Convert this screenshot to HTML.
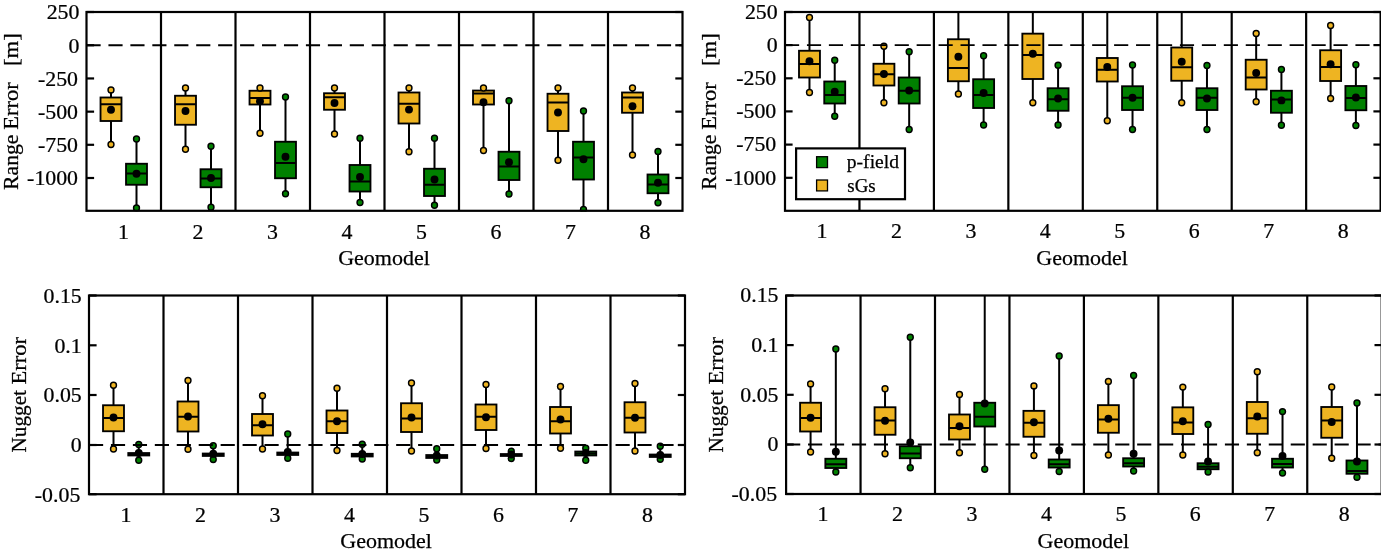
<!DOCTYPE html>
<html><head><meta charset="utf-8"><title>Geomodel error boxplots</title>
<style>
html,body{margin:0;padding:0;background:#fff;}
body{width:1381px;height:553px;overflow:hidden;}
svg{display:block;}
text{fill:#000;}
</style></head>
<body>
<svg width="1381" height="553" viewBox="0 0 1381 553">
<rect width="1381" height="553" fill="#fff"/>
<g id="TL">
<clipPath id="cTL"><rect x="86.5" y="12.0" width="596.0" height="199.40"/></clipPath>
<line x1="161.00" y1="12.0" x2="161.00" y2="210.8" stroke="#000" stroke-width="2.2"/>
<line x1="235.50" y1="12.0" x2="235.50" y2="210.8" stroke="#000" stroke-width="2.2"/>
<line x1="310.00" y1="12.0" x2="310.00" y2="210.8" stroke="#000" stroke-width="2.2"/>
<line x1="384.50" y1="12.0" x2="384.50" y2="210.8" stroke="#000" stroke-width="2.2"/>
<line x1="459.00" y1="12.0" x2="459.00" y2="210.8" stroke="#000" stroke-width="2.2"/>
<line x1="533.50" y1="12.0" x2="533.50" y2="210.8" stroke="#000" stroke-width="2.2"/>
<line x1="608.00" y1="12.0" x2="608.00" y2="210.8" stroke="#000" stroke-width="2.2"/>
<g clip-path="url(#cTL)">
<line x1="111.00" y1="89.90" x2="111.00" y2="144.50" stroke="#000" stroke-width="2.0"/>
<rect x="100.53" y="97.50" width="20.95" height="23.50" fill="#EEB422" stroke="#000" stroke-width="1.85"/>
<line x1="100.53" y1="104.25" x2="121.47" y2="104.25" stroke="#000" stroke-width="2.1"/>
<circle cx="111.00" cy="89.90" r="2.95" fill="#EEB422" stroke="#000" stroke-width="1.45"/>
<circle cx="111.00" cy="144.50" r="2.95" fill="#EEB422" stroke="#000" stroke-width="1.45"/>
<circle cx="111.00" cy="109.75" r="3.95" fill="#000"/>
<line x1="136.50" y1="139.00" x2="136.50" y2="208.00" stroke="#000" stroke-width="2.0"/>
<rect x="126.03" y="163.75" width="20.95" height="21.00" fill="#008000" stroke="#000" stroke-width="1.85"/>
<line x1="126.03" y1="173.50" x2="146.97" y2="173.50" stroke="#000" stroke-width="2.1"/>
<circle cx="136.50" cy="139.00" r="2.95" fill="#008000" stroke="#000" stroke-width="1.45"/>
<circle cx="136.50" cy="208.00" r="2.95" fill="#008000" stroke="#000" stroke-width="1.45"/>
<circle cx="136.50" cy="173.75" r="3.95" fill="#000"/>
<line x1="185.50" y1="88.00" x2="185.50" y2="149.25" stroke="#000" stroke-width="2.0"/>
<rect x="175.03" y="95.75" width="20.95" height="29.00" fill="#EEB422" stroke="#000" stroke-width="1.85"/>
<line x1="175.03" y1="104.25" x2="195.97" y2="104.25" stroke="#000" stroke-width="2.1"/>
<circle cx="185.50" cy="88.00" r="2.95" fill="#EEB422" stroke="#000" stroke-width="1.45"/>
<circle cx="185.50" cy="149.25" r="2.95" fill="#EEB422" stroke="#000" stroke-width="1.45"/>
<circle cx="185.50" cy="111.00" r="3.95" fill="#000"/>
<line x1="211.00" y1="146.25" x2="211.00" y2="207.25" stroke="#000" stroke-width="2.0"/>
<rect x="200.53" y="169.25" width="20.95" height="18.00" fill="#008000" stroke="#000" stroke-width="1.85"/>
<line x1="200.53" y1="178.50" x2="221.47" y2="178.50" stroke="#000" stroke-width="2.1"/>
<circle cx="211.00" cy="146.25" r="2.95" fill="#008000" stroke="#000" stroke-width="1.45"/>
<circle cx="211.00" cy="207.25" r="2.95" fill="#008000" stroke="#000" stroke-width="1.45"/>
<circle cx="211.00" cy="178.00" r="3.95" fill="#000"/>
<line x1="260.00" y1="88.00" x2="260.00" y2="133.25" stroke="#000" stroke-width="2.0"/>
<rect x="249.53" y="90.75" width="20.95" height="13.75" fill="#EEB422" stroke="#000" stroke-width="1.85"/>
<line x1="249.53" y1="98.00" x2="270.48" y2="98.00" stroke="#000" stroke-width="2.1"/>
<circle cx="260.00" cy="88.00" r="2.95" fill="#EEB422" stroke="#000" stroke-width="1.45"/>
<circle cx="260.00" cy="133.25" r="2.95" fill="#EEB422" stroke="#000" stroke-width="1.45"/>
<circle cx="260.00" cy="101.25" r="3.95" fill="#000"/>
<line x1="285.50" y1="97.00" x2="285.50" y2="193.75" stroke="#000" stroke-width="2.0"/>
<rect x="275.02" y="141.75" width="20.95" height="36.50" fill="#008000" stroke="#000" stroke-width="1.85"/>
<line x1="275.02" y1="163.00" x2="295.98" y2="163.00" stroke="#000" stroke-width="2.1"/>
<circle cx="285.50" cy="97.00" r="2.95" fill="#008000" stroke="#000" stroke-width="1.45"/>
<circle cx="285.50" cy="193.75" r="2.95" fill="#008000" stroke="#000" stroke-width="1.45"/>
<circle cx="285.50" cy="156.75" r="3.95" fill="#000"/>
<line x1="334.50" y1="88.00" x2="334.50" y2="134.00" stroke="#000" stroke-width="2.0"/>
<rect x="324.02" y="93.25" width="20.95" height="16.50" fill="#EEB422" stroke="#000" stroke-width="1.85"/>
<line x1="324.02" y1="97.25" x2="344.98" y2="97.25" stroke="#000" stroke-width="2.1"/>
<circle cx="334.50" cy="88.00" r="2.95" fill="#EEB422" stroke="#000" stroke-width="1.45"/>
<circle cx="334.50" cy="134.00" r="2.95" fill="#EEB422" stroke="#000" stroke-width="1.45"/>
<circle cx="334.50" cy="103.00" r="3.95" fill="#000"/>
<line x1="360.00" y1="138.25" x2="360.00" y2="202.50" stroke="#000" stroke-width="2.0"/>
<rect x="349.52" y="165.00" width="20.95" height="26.50" fill="#008000" stroke="#000" stroke-width="1.85"/>
<line x1="349.52" y1="181.50" x2="370.48" y2="181.50" stroke="#000" stroke-width="2.1"/>
<circle cx="360.00" cy="138.25" r="2.95" fill="#008000" stroke="#000" stroke-width="1.45"/>
<circle cx="360.00" cy="202.50" r="2.95" fill="#008000" stroke="#000" stroke-width="1.45"/>
<circle cx="360.00" cy="177.00" r="3.95" fill="#000"/>
<line x1="409.00" y1="88.00" x2="409.00" y2="151.75" stroke="#000" stroke-width="2.0"/>
<rect x="398.52" y="92.50" width="20.95" height="31.00" fill="#EEB422" stroke="#000" stroke-width="1.85"/>
<line x1="398.52" y1="103.75" x2="419.48" y2="103.75" stroke="#000" stroke-width="2.1"/>
<circle cx="409.00" cy="88.00" r="2.95" fill="#EEB422" stroke="#000" stroke-width="1.45"/>
<circle cx="409.00" cy="151.75" r="2.95" fill="#EEB422" stroke="#000" stroke-width="1.45"/>
<circle cx="409.00" cy="109.60" r="3.95" fill="#000"/>
<line x1="434.50" y1="138.25" x2="434.50" y2="205.25" stroke="#000" stroke-width="2.0"/>
<rect x="424.02" y="168.75" width="20.95" height="27.25" fill="#008000" stroke="#000" stroke-width="1.85"/>
<line x1="424.02" y1="184.75" x2="444.98" y2="184.75" stroke="#000" stroke-width="2.1"/>
<circle cx="434.50" cy="138.25" r="2.95" fill="#008000" stroke="#000" stroke-width="1.45"/>
<circle cx="434.50" cy="205.25" r="2.95" fill="#008000" stroke="#000" stroke-width="1.45"/>
<circle cx="434.50" cy="179.50" r="3.95" fill="#000"/>
<line x1="483.50" y1="88.00" x2="483.50" y2="150.50" stroke="#000" stroke-width="2.0"/>
<rect x="473.02" y="90.55" width="20.95" height="13.95" fill="#EEB422" stroke="#000" stroke-width="1.85"/>
<line x1="473.02" y1="93.50" x2="493.98" y2="93.50" stroke="#000" stroke-width="2.1"/>
<circle cx="483.50" cy="88.00" r="2.95" fill="#EEB422" stroke="#000" stroke-width="1.45"/>
<circle cx="483.50" cy="150.50" r="2.95" fill="#EEB422" stroke="#000" stroke-width="1.45"/>
<circle cx="483.50" cy="102.25" r="3.95" fill="#000"/>
<line x1="509.00" y1="100.75" x2="509.00" y2="194.00" stroke="#000" stroke-width="2.0"/>
<rect x="498.52" y="151.75" width="20.95" height="28.25" fill="#008000" stroke="#000" stroke-width="1.85"/>
<line x1="498.52" y1="166.50" x2="519.48" y2="166.50" stroke="#000" stroke-width="2.1"/>
<circle cx="509.00" cy="100.75" r="2.95" fill="#008000" stroke="#000" stroke-width="1.45"/>
<circle cx="509.00" cy="194.00" r="2.95" fill="#008000" stroke="#000" stroke-width="1.45"/>
<circle cx="509.00" cy="162.25" r="3.95" fill="#000"/>
<line x1="558.00" y1="88.00" x2="558.00" y2="160.25" stroke="#000" stroke-width="2.0"/>
<rect x="547.52" y="93.75" width="20.95" height="37.25" fill="#EEB422" stroke="#000" stroke-width="1.85"/>
<line x1="547.52" y1="102.50" x2="568.48" y2="102.50" stroke="#000" stroke-width="2.1"/>
<circle cx="558.00" cy="88.00" r="2.95" fill="#EEB422" stroke="#000" stroke-width="1.45"/>
<circle cx="558.00" cy="160.25" r="2.95" fill="#EEB422" stroke="#000" stroke-width="1.45"/>
<circle cx="558.00" cy="112.50" r="3.95" fill="#000"/>
<line x1="583.50" y1="111.00" x2="583.50" y2="209.50" stroke="#000" stroke-width="2.0"/>
<rect x="573.02" y="141.75" width="20.95" height="37.75" fill="#008000" stroke="#000" stroke-width="1.85"/>
<line x1="573.02" y1="157.50" x2="593.98" y2="157.50" stroke="#000" stroke-width="2.1"/>
<circle cx="583.50" cy="111.00" r="2.95" fill="#008000" stroke="#000" stroke-width="1.45"/>
<circle cx="583.50" cy="209.50" r="2.95" fill="#008000" stroke="#000" stroke-width="1.45"/>
<circle cx="583.50" cy="159.25" r="3.95" fill="#000"/>
<line x1="632.50" y1="88.00" x2="632.50" y2="155.00" stroke="#000" stroke-width="2.0"/>
<rect x="622.02" y="92.50" width="20.95" height="20.25" fill="#EEB422" stroke="#000" stroke-width="1.85"/>
<line x1="622.02" y1="97.50" x2="642.98" y2="97.50" stroke="#000" stroke-width="2.1"/>
<circle cx="632.50" cy="88.00" r="2.95" fill="#EEB422" stroke="#000" stroke-width="1.45"/>
<circle cx="632.50" cy="155.00" r="2.95" fill="#EEB422" stroke="#000" stroke-width="1.45"/>
<circle cx="632.50" cy="106.25" r="3.95" fill="#000"/>
<line x1="658.00" y1="151.50" x2="658.00" y2="202.75" stroke="#000" stroke-width="2.0"/>
<rect x="647.52" y="174.50" width="20.95" height="18.75" fill="#008000" stroke="#000" stroke-width="1.85"/>
<line x1="647.52" y1="184.50" x2="668.48" y2="184.50" stroke="#000" stroke-width="2.1"/>
<circle cx="658.00" cy="151.50" r="2.95" fill="#008000" stroke="#000" stroke-width="1.45"/>
<circle cx="658.00" cy="202.75" r="2.95" fill="#008000" stroke="#000" stroke-width="1.45"/>
<circle cx="658.00" cy="182.75" r="3.95" fill="#000"/>
</g>
<line x1="86.5" y1="45.25" x2="682.5" y2="45.25" stroke="#000" stroke-width="1.85" stroke-dasharray="14.15 7.79"/>
<line x1="86.5" y1="12.0" x2="94.1" y2="12.0" stroke="#000" stroke-width="2.2"/>
<line x1="682.5" y1="12.0" x2="675.3" y2="12.0" stroke="#000" stroke-width="2.2"/>
<text transform="translate(79.40,19.40) scale(1.065,1)" text-anchor="end" font-family="Liberation Serif, serif" font-size="20.5" stroke="#000" stroke-width="0.25">250</text>
<line x1="86.5" y1="45.25" x2="94.1" y2="45.25" stroke="#000" stroke-width="2.2"/>
<line x1="682.5" y1="45.25" x2="675.3" y2="45.25" stroke="#000" stroke-width="2.2"/>
<text transform="translate(79.40,52.65) scale(1.065,1)" text-anchor="end" font-family="Liberation Serif, serif" font-size="20.5" stroke="#000" stroke-width="0.25">0</text>
<line x1="86.5" y1="78.45" x2="94.1" y2="78.45" stroke="#000" stroke-width="2.2"/>
<line x1="682.5" y1="78.45" x2="675.3" y2="78.45" stroke="#000" stroke-width="2.2"/>
<text transform="translate(78.00,85.85) scale(1.065,1)" text-anchor="end" font-family="Liberation Serif, serif" font-size="20.5" stroke="#000" stroke-width="0.25">-250</text>
<line x1="86.5" y1="111.65" x2="94.1" y2="111.65" stroke="#000" stroke-width="2.2"/>
<line x1="682.5" y1="111.65" x2="675.3" y2="111.65" stroke="#000" stroke-width="2.2"/>
<text transform="translate(78.00,119.05) scale(1.065,1)" text-anchor="end" font-family="Liberation Serif, serif" font-size="20.5" stroke="#000" stroke-width="0.25">-500</text>
<line x1="86.5" y1="144.8" x2="94.1" y2="144.8" stroke="#000" stroke-width="2.2"/>
<line x1="682.5" y1="144.8" x2="675.3" y2="144.8" stroke="#000" stroke-width="2.2"/>
<text transform="translate(78.00,152.20) scale(1.065,1)" text-anchor="end" font-family="Liberation Serif, serif" font-size="20.5" stroke="#000" stroke-width="0.25">-750</text>
<line x1="86.5" y1="178.0" x2="94.1" y2="178.0" stroke="#000" stroke-width="2.2"/>
<line x1="682.5" y1="178.0" x2="675.3" y2="178.0" stroke="#000" stroke-width="2.2"/>
<text transform="translate(78.00,185.40) scale(1.065,1)" text-anchor="end" font-family="Liberation Serif, serif" font-size="20.5" stroke="#000" stroke-width="0.25">-1000</text>
<rect x="86.5" y="12.0" width="596.0" height="198.80" fill="none" stroke="#000" stroke-width="2.2"/>
<text transform="translate(123.45,238.6) scale(1.065,1)" text-anchor="middle" font-family="Liberation Serif, serif" font-size="20.5" stroke="#000" stroke-width="0.25">1</text>
<text transform="translate(197.95,238.6) scale(1.065,1)" text-anchor="middle" font-family="Liberation Serif, serif" font-size="20.5" stroke="#000" stroke-width="0.25">2</text>
<text transform="translate(272.45,238.6) scale(1.065,1)" text-anchor="middle" font-family="Liberation Serif, serif" font-size="20.5" stroke="#000" stroke-width="0.25">3</text>
<text transform="translate(346.95,238.6) scale(1.065,1)" text-anchor="middle" font-family="Liberation Serif, serif" font-size="20.5" stroke="#000" stroke-width="0.25">4</text>
<text transform="translate(421.45,238.6) scale(1.065,1)" text-anchor="middle" font-family="Liberation Serif, serif" font-size="20.5" stroke="#000" stroke-width="0.25">5</text>
<text transform="translate(495.95,238.6) scale(1.065,1)" text-anchor="middle" font-family="Liberation Serif, serif" font-size="20.5" stroke="#000" stroke-width="0.25">6</text>
<text transform="translate(570.45,238.6) scale(1.065,1)" text-anchor="middle" font-family="Liberation Serif, serif" font-size="20.5" stroke="#000" stroke-width="0.25">7</text>
<text transform="translate(644.95,238.6) scale(1.065,1)" text-anchor="middle" font-family="Liberation Serif, serif" font-size="20.5" stroke="#000" stroke-width="0.25">8</text>
<text x="384.0" y="265.09999999999997" text-anchor="middle" font-family="Liberation Serif, serif" font-size="21.9" textLength="91.6" lengthAdjust="spacingAndGlyphs" stroke="#000" stroke-width="0.25">Geomodel</text>
<text transform="translate(18.2,190.0) rotate(-90)" font-family="Liberation Serif, serif" font-size="20.5" textLength="55.5" lengthAdjust="spacingAndGlyphs" stroke="#000" stroke-width="0.25">Range</text>
<text transform="translate(18.2,129.75) rotate(-90)" font-family="Liberation Serif, serif" font-size="20.5" textLength="47.5" lengthAdjust="spacingAndGlyphs" stroke="#000" stroke-width="0.25">Error</text>
<text transform="translate(18.2,66.0) rotate(-90)" font-family="Liberation Serif, serif" font-size="20.5" textLength="32.8" lengthAdjust="spacingAndGlyphs" stroke="#000" stroke-width="0.25">[m]</text>
</g>
<g id="BL">
<clipPath id="cBL"><rect x="89.0" y="295.5" width="596.0" height="199.30"/></clipPath>
<line x1="163.50" y1="295.5" x2="163.50" y2="494.2" stroke="#000" stroke-width="2.2"/>
<line x1="238.00" y1="295.5" x2="238.00" y2="494.2" stroke="#000" stroke-width="2.2"/>
<line x1="312.50" y1="295.5" x2="312.50" y2="494.2" stroke="#000" stroke-width="2.2"/>
<line x1="387.00" y1="295.5" x2="387.00" y2="494.2" stroke="#000" stroke-width="2.2"/>
<line x1="461.50" y1="295.5" x2="461.50" y2="494.2" stroke="#000" stroke-width="2.2"/>
<line x1="536.00" y1="295.5" x2="536.00" y2="494.2" stroke="#000" stroke-width="2.2"/>
<line x1="610.50" y1="295.5" x2="610.50" y2="494.2" stroke="#000" stroke-width="2.2"/>
<g clip-path="url(#cBL)">
<line x1="113.50" y1="385.25" x2="113.50" y2="449.00" stroke="#000" stroke-width="2.0"/>
<rect x="103.03" y="405.25" width="20.95" height="26.00" fill="#EEB422" stroke="#000" stroke-width="1.85"/>
<line x1="103.03" y1="418.00" x2="123.97" y2="418.00" stroke="#000" stroke-width="2.1"/>
<circle cx="113.50" cy="385.25" r="2.95" fill="#EEB422" stroke="#000" stroke-width="1.45"/>
<circle cx="113.50" cy="449.00" r="2.95" fill="#EEB422" stroke="#000" stroke-width="1.45"/>
<circle cx="113.50" cy="417.50" r="3.95" fill="#000"/>
<line x1="138.75" y1="444.50" x2="138.75" y2="460.25" stroke="#000" stroke-width="2.0"/>
<rect x="128.28" y="453.05" width="20.95" height="2.40" fill="#008000" stroke="#000" stroke-width="1.85"/>
<line x1="128.28" y1="454.25" x2="149.22" y2="454.25" stroke="#000" stroke-width="2.1"/>
<circle cx="138.75" cy="444.50" r="2.95" fill="#008000" stroke="#000" stroke-width="1.45"/>
<circle cx="138.75" cy="460.25" r="2.95" fill="#008000" stroke="#000" stroke-width="1.45"/>
<circle cx="138.75" cy="453.00" r="3.95" fill="#000"/>
<line x1="188.00" y1="380.50" x2="188.00" y2="449.25" stroke="#000" stroke-width="2.0"/>
<rect x="177.53" y="401.50" width="20.95" height="30.00" fill="#EEB422" stroke="#000" stroke-width="1.85"/>
<line x1="177.53" y1="416.75" x2="198.47" y2="416.75" stroke="#000" stroke-width="2.1"/>
<circle cx="188.00" cy="380.50" r="2.95" fill="#EEB422" stroke="#000" stroke-width="1.45"/>
<circle cx="188.00" cy="449.25" r="2.95" fill="#EEB422" stroke="#000" stroke-width="1.45"/>
<circle cx="188.00" cy="416.50" r="3.95" fill="#000"/>
<line x1="213.25" y1="445.75" x2="213.25" y2="459.50" stroke="#000" stroke-width="2.0"/>
<rect x="202.78" y="453.55" width="20.95" height="2.40" fill="#008000" stroke="#000" stroke-width="1.85"/>
<line x1="202.78" y1="454.75" x2="223.72" y2="454.75" stroke="#000" stroke-width="2.1"/>
<circle cx="213.25" cy="445.75" r="2.95" fill="#008000" stroke="#000" stroke-width="1.45"/>
<circle cx="213.25" cy="459.50" r="2.95" fill="#008000" stroke="#000" stroke-width="1.45"/>
<circle cx="213.25" cy="453.75" r="3.95" fill="#000"/>
<line x1="262.50" y1="395.75" x2="262.50" y2="449.00" stroke="#000" stroke-width="2.0"/>
<rect x="252.03" y="414.00" width="20.95" height="21.50" fill="#EEB422" stroke="#000" stroke-width="1.85"/>
<line x1="252.03" y1="425.25" x2="272.98" y2="425.25" stroke="#000" stroke-width="2.1"/>
<circle cx="262.50" cy="395.75" r="2.95" fill="#EEB422" stroke="#000" stroke-width="1.45"/>
<circle cx="262.50" cy="449.00" r="2.95" fill="#EEB422" stroke="#000" stroke-width="1.45"/>
<circle cx="262.50" cy="424.25" r="3.95" fill="#000"/>
<line x1="287.75" y1="434.00" x2="287.75" y2="458.25" stroke="#000" stroke-width="2.0"/>
<rect x="277.27" y="452.55" width="20.95" height="2.40" fill="#008000" stroke="#000" stroke-width="1.85"/>
<line x1="277.27" y1="453.75" x2="298.23" y2="453.75" stroke="#000" stroke-width="2.1"/>
<circle cx="287.75" cy="434.00" r="2.95" fill="#008000" stroke="#000" stroke-width="1.45"/>
<circle cx="287.75" cy="458.25" r="2.95" fill="#008000" stroke="#000" stroke-width="1.45"/>
<circle cx="287.75" cy="452.00" r="3.95" fill="#000"/>
<line x1="337.00" y1="388.25" x2="337.00" y2="450.50" stroke="#000" stroke-width="2.0"/>
<rect x="326.52" y="410.50" width="20.95" height="22.50" fill="#EEB422" stroke="#000" stroke-width="1.85"/>
<line x1="326.52" y1="421.25" x2="347.48" y2="421.25" stroke="#000" stroke-width="2.1"/>
<circle cx="337.00" cy="388.25" r="2.95" fill="#EEB422" stroke="#000" stroke-width="1.45"/>
<circle cx="337.00" cy="450.50" r="2.95" fill="#EEB422" stroke="#000" stroke-width="1.45"/>
<circle cx="337.00" cy="421.25" r="3.95" fill="#000"/>
<line x1="362.25" y1="444.25" x2="362.25" y2="459.00" stroke="#000" stroke-width="2.0"/>
<rect x="351.77" y="453.80" width="20.95" height="2.65" fill="#008000" stroke="#000" stroke-width="1.85"/>
<line x1="351.77" y1="455.00" x2="372.73" y2="455.00" stroke="#000" stroke-width="2.1"/>
<circle cx="362.25" cy="444.25" r="2.95" fill="#008000" stroke="#000" stroke-width="1.45"/>
<circle cx="362.25" cy="459.00" r="2.95" fill="#008000" stroke="#000" stroke-width="1.45"/>
<circle cx="362.25" cy="454.00" r="3.95" fill="#000"/>
<line x1="411.50" y1="383.00" x2="411.50" y2="451.00" stroke="#000" stroke-width="2.0"/>
<rect x="401.02" y="403.25" width="20.95" height="28.75" fill="#EEB422" stroke="#000" stroke-width="1.85"/>
<line x1="401.02" y1="418.50" x2="421.98" y2="418.50" stroke="#000" stroke-width="2.1"/>
<circle cx="411.50" cy="383.00" r="2.95" fill="#EEB422" stroke="#000" stroke-width="1.45"/>
<circle cx="411.50" cy="451.00" r="2.95" fill="#EEB422" stroke="#000" stroke-width="1.45"/>
<circle cx="411.50" cy="417.50" r="3.95" fill="#000"/>
<line x1="436.75" y1="448.75" x2="436.75" y2="460.00" stroke="#000" stroke-width="2.0"/>
<rect x="426.27" y="455.05" width="20.95" height="2.90" fill="#008000" stroke="#000" stroke-width="1.85"/>
<line x1="426.27" y1="456.50" x2="447.23" y2="456.50" stroke="#000" stroke-width="2.1"/>
<circle cx="436.75" cy="448.75" r="2.95" fill="#008000" stroke="#000" stroke-width="1.45"/>
<circle cx="436.75" cy="460.00" r="2.95" fill="#008000" stroke="#000" stroke-width="1.45"/>
<circle cx="436.75" cy="455.50" r="3.95" fill="#000"/>
<line x1="486.00" y1="384.50" x2="486.00" y2="448.50" stroke="#000" stroke-width="2.0"/>
<rect x="475.52" y="404.50" width="20.95" height="25.50" fill="#EEB422" stroke="#000" stroke-width="1.85"/>
<line x1="475.52" y1="416.75" x2="496.48" y2="416.75" stroke="#000" stroke-width="2.1"/>
<circle cx="486.00" cy="384.50" r="2.95" fill="#EEB422" stroke="#000" stroke-width="1.45"/>
<circle cx="486.00" cy="448.50" r="2.95" fill="#EEB422" stroke="#000" stroke-width="1.45"/>
<circle cx="486.00" cy="417.25" r="3.95" fill="#000"/>
<line x1="511.25" y1="451.25" x2="511.25" y2="458.50" stroke="#000" stroke-width="2.0"/>
<rect x="500.77" y="454.05" width="20.95" height="1.90" fill="#008000" stroke="#000" stroke-width="1.85"/>
<line x1="500.77" y1="455.00" x2="521.73" y2="455.00" stroke="#000" stroke-width="2.1"/>
<circle cx="511.25" cy="451.25" r="2.95" fill="#008000" stroke="#000" stroke-width="1.45"/>
<circle cx="511.25" cy="458.50" r="2.95" fill="#008000" stroke="#000" stroke-width="1.45"/>
<circle cx="511.25" cy="454.50" r="3.95" fill="#000"/>
<line x1="560.50" y1="386.50" x2="560.50" y2="448.25" stroke="#000" stroke-width="2.0"/>
<rect x="550.02" y="407.00" width="20.95" height="26.50" fill="#EEB422" stroke="#000" stroke-width="1.85"/>
<line x1="550.02" y1="421.25" x2="570.98" y2="421.25" stroke="#000" stroke-width="2.1"/>
<circle cx="560.50" cy="386.50" r="2.95" fill="#EEB422" stroke="#000" stroke-width="1.45"/>
<circle cx="560.50" cy="448.25" r="2.95" fill="#EEB422" stroke="#000" stroke-width="1.45"/>
<circle cx="560.50" cy="419.50" r="3.95" fill="#000"/>
<line x1="585.75" y1="448.25" x2="585.75" y2="460.25" stroke="#000" stroke-width="2.0"/>
<rect x="575.27" y="451.55" width="20.95" height="3.90" fill="#008000" stroke="#000" stroke-width="1.85"/>
<line x1="575.27" y1="453.50" x2="596.23" y2="453.50" stroke="#000" stroke-width="2.1"/>
<circle cx="585.75" cy="448.25" r="2.95" fill="#008000" stroke="#000" stroke-width="1.45"/>
<circle cx="585.75" cy="460.25" r="2.95" fill="#008000" stroke="#000" stroke-width="1.45"/>
<circle cx="585.75" cy="453.00" r="3.95" fill="#000"/>
<line x1="635.00" y1="383.50" x2="635.00" y2="451.00" stroke="#000" stroke-width="2.0"/>
<rect x="624.52" y="402.25" width="20.95" height="30.25" fill="#EEB422" stroke="#000" stroke-width="1.85"/>
<line x1="624.52" y1="417.75" x2="645.48" y2="417.75" stroke="#000" stroke-width="2.1"/>
<circle cx="635.00" cy="383.50" r="2.95" fill="#EEB422" stroke="#000" stroke-width="1.45"/>
<circle cx="635.00" cy="451.00" r="2.95" fill="#EEB422" stroke="#000" stroke-width="1.45"/>
<circle cx="635.00" cy="417.75" r="3.95" fill="#000"/>
<line x1="660.25" y1="446.25" x2="660.25" y2="459.25" stroke="#000" stroke-width="2.0"/>
<rect x="649.77" y="454.55" width="20.95" height="2.40" fill="#008000" stroke="#000" stroke-width="1.85"/>
<line x1="649.77" y1="455.75" x2="670.73" y2="455.75" stroke="#000" stroke-width="2.1"/>
<circle cx="660.25" cy="446.25" r="2.95" fill="#008000" stroke="#000" stroke-width="1.45"/>
<circle cx="660.25" cy="459.25" r="2.95" fill="#008000" stroke="#000" stroke-width="1.45"/>
<circle cx="660.25" cy="455.00" r="3.95" fill="#000"/>
</g>
<line x1="89.0" y1="445.0" x2="685.0" y2="445.0" stroke="#000" stroke-width="1.85" stroke-dasharray="14.15 7.79"/>
<line x1="89.0" y1="295.5" x2="96.6" y2="295.5" stroke="#000" stroke-width="2.2"/>
<line x1="685.0" y1="295.5" x2="677.8" y2="295.5" stroke="#000" stroke-width="2.2"/>
<text transform="translate(81.70,302.90) scale(1.065,1)" text-anchor="end" font-family="Liberation Serif, serif" font-size="20.5" stroke="#000" stroke-width="0.25">0.15</text>
<line x1="89.0" y1="345.3" x2="96.6" y2="345.3" stroke="#000" stroke-width="2.2"/>
<line x1="685.0" y1="345.3" x2="677.8" y2="345.3" stroke="#000" stroke-width="2.2"/>
<text transform="translate(81.70,352.70) scale(1.065,1)" text-anchor="end" font-family="Liberation Serif, serif" font-size="20.5" stroke="#000" stroke-width="0.25">0.1</text>
<line x1="89.0" y1="395.0" x2="96.6" y2="395.0" stroke="#000" stroke-width="2.2"/>
<line x1="685.0" y1="395.0" x2="677.8" y2="395.0" stroke="#000" stroke-width="2.2"/>
<text transform="translate(81.70,402.40) scale(1.065,1)" text-anchor="end" font-family="Liberation Serif, serif" font-size="20.5" stroke="#000" stroke-width="0.25">0.05</text>
<line x1="89.0" y1="445.0" x2="96.6" y2="445.0" stroke="#000" stroke-width="2.2"/>
<line x1="685.0" y1="445.0" x2="677.8" y2="445.0" stroke="#000" stroke-width="2.2"/>
<text transform="translate(81.70,452.40) scale(1.065,1)" text-anchor="end" font-family="Liberation Serif, serif" font-size="20.5" stroke="#000" stroke-width="0.25">0</text>
<line x1="89.0" y1="494.2" x2="96.6" y2="494.2" stroke="#000" stroke-width="2.2"/>
<line x1="685.0" y1="494.2" x2="677.8" y2="494.2" stroke="#000" stroke-width="2.2"/>
<text transform="translate(80.30,501.60) scale(1.065,1)" text-anchor="end" font-family="Liberation Serif, serif" font-size="20.5" stroke="#000" stroke-width="0.25">-0.05</text>
<rect x="89.0" y="295.5" width="596.0" height="198.70" fill="none" stroke="#000" stroke-width="2.2"/>
<text transform="translate(125.95,521.7) scale(1.065,1)" text-anchor="middle" font-family="Liberation Serif, serif" font-size="20.5" stroke="#000" stroke-width="0.25">1</text>
<text transform="translate(200.45,521.7) scale(1.065,1)" text-anchor="middle" font-family="Liberation Serif, serif" font-size="20.5" stroke="#000" stroke-width="0.25">2</text>
<text transform="translate(274.95,521.7) scale(1.065,1)" text-anchor="middle" font-family="Liberation Serif, serif" font-size="20.5" stroke="#000" stroke-width="0.25">3</text>
<text transform="translate(349.45,521.7) scale(1.065,1)" text-anchor="middle" font-family="Liberation Serif, serif" font-size="20.5" stroke="#000" stroke-width="0.25">4</text>
<text transform="translate(423.95,521.7) scale(1.065,1)" text-anchor="middle" font-family="Liberation Serif, serif" font-size="20.5" stroke="#000" stroke-width="0.25">5</text>
<text transform="translate(498.45,521.7) scale(1.065,1)" text-anchor="middle" font-family="Liberation Serif, serif" font-size="20.5" stroke="#000" stroke-width="0.25">6</text>
<text transform="translate(572.95,521.7) scale(1.065,1)" text-anchor="middle" font-family="Liberation Serif, serif" font-size="20.5" stroke="#000" stroke-width="0.25">7</text>
<text transform="translate(647.45,521.7) scale(1.065,1)" text-anchor="middle" font-family="Liberation Serif, serif" font-size="20.5" stroke="#000" stroke-width="0.25">8</text>
<text x="386.1" y="547.8000000000001" text-anchor="middle" font-family="Liberation Serif, serif" font-size="21.9" textLength="91.6" lengthAdjust="spacingAndGlyphs" stroke="#000" stroke-width="0.25">Geomodel</text>
<text transform="translate(25.7,452.6) rotate(-90)" font-family="Liberation Serif, serif" font-size="20.5" textLength="62.6" lengthAdjust="spacingAndGlyphs" stroke="#000" stroke-width="0.25">Nugget</text>
<text transform="translate(25.7,384.45) rotate(-90)" font-family="Liberation Serif, serif" font-size="20.5" textLength="47.5" lengthAdjust="spacingAndGlyphs" stroke="#000" stroke-width="0.25">Error</text>
</g>
<g id="TR">
<clipPath id="cTR"><rect x="785.0" y="12.0" width="595.6" height="199.40"/></clipPath>
<line x1="859.45" y1="12.0" x2="859.45" y2="210.8" stroke="#000" stroke-width="2.2"/>
<line x1="933.90" y1="12.0" x2="933.90" y2="210.8" stroke="#000" stroke-width="2.2"/>
<line x1="1008.35" y1="12.0" x2="1008.35" y2="210.8" stroke="#000" stroke-width="2.2"/>
<line x1="1082.80" y1="12.0" x2="1082.80" y2="210.8" stroke="#000" stroke-width="2.2"/>
<line x1="1157.25" y1="12.0" x2="1157.25" y2="210.8" stroke="#000" stroke-width="2.2"/>
<line x1="1231.70" y1="12.0" x2="1231.70" y2="210.8" stroke="#000" stroke-width="2.2"/>
<line x1="1306.15" y1="12.0" x2="1306.15" y2="210.8" stroke="#000" stroke-width="2.2"/>
<g clip-path="url(#cTR)">
<line x1="809.48" y1="17.40" x2="809.48" y2="92.50" stroke="#000" stroke-width="2.0"/>
<rect x="799.00" y="50.75" width="20.95" height="26.75" fill="#EEB422" stroke="#000" stroke-width="1.85"/>
<line x1="799.00" y1="64.00" x2="819.95" y2="64.00" stroke="#000" stroke-width="2.1"/>
<circle cx="809.48" cy="17.40" r="2.95" fill="#EEB422" stroke="#000" stroke-width="1.45"/>
<circle cx="809.48" cy="92.50" r="2.95" fill="#EEB422" stroke="#000" stroke-width="1.45"/>
<circle cx="809.48" cy="61.25" r="3.95" fill="#000"/>
<line x1="834.73" y1="60.25" x2="834.73" y2="116.25" stroke="#000" stroke-width="2.0"/>
<rect x="824.25" y="81.50" width="20.95" height="22.00" fill="#008000" stroke="#000" stroke-width="1.85"/>
<line x1="824.25" y1="95.00" x2="845.20" y2="95.00" stroke="#000" stroke-width="2.1"/>
<circle cx="834.73" cy="60.25" r="2.95" fill="#008000" stroke="#000" stroke-width="1.45"/>
<circle cx="834.73" cy="116.25" r="2.95" fill="#008000" stroke="#000" stroke-width="1.45"/>
<circle cx="834.73" cy="91.75" r="3.95" fill="#000"/>
<line x1="883.92" y1="46.25" x2="883.92" y2="102.75" stroke="#000" stroke-width="2.0"/>
<rect x="873.45" y="63.75" width="20.95" height="21.75" fill="#EEB422" stroke="#000" stroke-width="1.85"/>
<line x1="873.45" y1="74.25" x2="894.40" y2="74.25" stroke="#000" stroke-width="2.1"/>
<circle cx="883.92" cy="46.25" r="2.95" fill="#EEB422" stroke="#000" stroke-width="1.45"/>
<circle cx="883.92" cy="102.75" r="2.95" fill="#EEB422" stroke="#000" stroke-width="1.45"/>
<circle cx="883.92" cy="74.00" r="3.95" fill="#000"/>
<line x1="909.17" y1="51.75" x2="909.17" y2="129.50" stroke="#000" stroke-width="2.0"/>
<rect x="898.70" y="77.50" width="20.95" height="26.00" fill="#008000" stroke="#000" stroke-width="1.85"/>
<line x1="898.70" y1="90.75" x2="919.65" y2="90.75" stroke="#000" stroke-width="2.1"/>
<circle cx="909.17" cy="51.75" r="2.95" fill="#008000" stroke="#000" stroke-width="1.45"/>
<circle cx="909.17" cy="129.50" r="2.95" fill="#008000" stroke="#000" stroke-width="1.45"/>
<circle cx="909.17" cy="90.50" r="3.95" fill="#000"/>
<line x1="958.38" y1="7.00" x2="958.38" y2="94.00" stroke="#000" stroke-width="2.0"/>
<rect x="947.90" y="39.25" width="20.95" height="42.00" fill="#EEB422" stroke="#000" stroke-width="1.85"/>
<line x1="947.90" y1="68.00" x2="968.85" y2="68.00" stroke="#000" stroke-width="2.1"/>
<circle cx="958.38" cy="94.00" r="2.95" fill="#EEB422" stroke="#000" stroke-width="1.45"/>
<circle cx="958.38" cy="56.75" r="3.95" fill="#000"/>
<line x1="983.62" y1="55.75" x2="983.62" y2="125.00" stroke="#000" stroke-width="2.0"/>
<rect x="973.15" y="79.25" width="20.95" height="28.75" fill="#008000" stroke="#000" stroke-width="1.85"/>
<line x1="973.15" y1="95.00" x2="994.10" y2="95.00" stroke="#000" stroke-width="2.1"/>
<circle cx="983.62" cy="55.75" r="2.95" fill="#008000" stroke="#000" stroke-width="1.45"/>
<circle cx="983.62" cy="125.00" r="2.95" fill="#008000" stroke="#000" stroke-width="1.45"/>
<circle cx="983.62" cy="93.00" r="3.95" fill="#000"/>
<line x1="1032.83" y1="7.00" x2="1032.83" y2="102.75" stroke="#000" stroke-width="2.0"/>
<rect x="1022.35" y="33.65" width="20.95" height="45.35" fill="#EEB422" stroke="#000" stroke-width="1.85"/>
<line x1="1022.35" y1="55.00" x2="1043.30" y2="55.00" stroke="#000" stroke-width="2.1"/>
<circle cx="1032.83" cy="102.75" r="2.95" fill="#EEB422" stroke="#000" stroke-width="1.45"/>
<circle cx="1032.83" cy="53.75" r="3.95" fill="#000"/>
<line x1="1058.08" y1="65.25" x2="1058.08" y2="125.00" stroke="#000" stroke-width="2.0"/>
<rect x="1047.60" y="88.25" width="20.95" height="22.50" fill="#008000" stroke="#000" stroke-width="1.85"/>
<line x1="1047.60" y1="99.25" x2="1068.55" y2="99.25" stroke="#000" stroke-width="2.1"/>
<circle cx="1058.08" cy="65.25" r="2.95" fill="#008000" stroke="#000" stroke-width="1.45"/>
<circle cx="1058.08" cy="125.00" r="2.95" fill="#008000" stroke="#000" stroke-width="1.45"/>
<circle cx="1058.08" cy="98.50" r="3.95" fill="#000"/>
<line x1="1107.28" y1="7.00" x2="1107.28" y2="120.75" stroke="#000" stroke-width="2.0"/>
<rect x="1096.80" y="58.00" width="20.95" height="23.50" fill="#EEB422" stroke="#000" stroke-width="1.85"/>
<line x1="1096.80" y1="69.75" x2="1117.75" y2="69.75" stroke="#000" stroke-width="2.1"/>
<circle cx="1107.28" cy="120.75" r="2.95" fill="#EEB422" stroke="#000" stroke-width="1.45"/>
<circle cx="1107.28" cy="67.00" r="3.95" fill="#000"/>
<line x1="1132.53" y1="65.00" x2="1132.53" y2="129.50" stroke="#000" stroke-width="2.0"/>
<rect x="1122.05" y="86.25" width="20.95" height="23.75" fill="#008000" stroke="#000" stroke-width="1.85"/>
<line x1="1122.05" y1="97.75" x2="1143.00" y2="97.75" stroke="#000" stroke-width="2.1"/>
<circle cx="1132.53" cy="65.00" r="2.95" fill="#008000" stroke="#000" stroke-width="1.45"/>
<circle cx="1132.53" cy="129.50" r="2.95" fill="#008000" stroke="#000" stroke-width="1.45"/>
<circle cx="1132.53" cy="97.75" r="3.95" fill="#000"/>
<line x1="1181.72" y1="7.00" x2="1181.72" y2="102.75" stroke="#000" stroke-width="2.0"/>
<rect x="1171.25" y="47.50" width="20.95" height="33.25" fill="#EEB422" stroke="#000" stroke-width="1.85"/>
<line x1="1171.25" y1="67.25" x2="1192.20" y2="67.25" stroke="#000" stroke-width="2.1"/>
<circle cx="1181.72" cy="102.75" r="2.95" fill="#EEB422" stroke="#000" stroke-width="1.45"/>
<circle cx="1181.72" cy="61.75" r="3.95" fill="#000"/>
<line x1="1206.97" y1="65.50" x2="1206.97" y2="129.50" stroke="#000" stroke-width="2.0"/>
<rect x="1196.50" y="88.25" width="20.95" height="21.75" fill="#008000" stroke="#000" stroke-width="1.85"/>
<line x1="1196.50" y1="97.75" x2="1217.45" y2="97.75" stroke="#000" stroke-width="2.1"/>
<circle cx="1206.97" cy="65.50" r="2.95" fill="#008000" stroke="#000" stroke-width="1.45"/>
<circle cx="1206.97" cy="129.50" r="2.95" fill="#008000" stroke="#000" stroke-width="1.45"/>
<circle cx="1206.97" cy="98.50" r="3.95" fill="#000"/>
<line x1="1256.17" y1="33.50" x2="1256.17" y2="101.75" stroke="#000" stroke-width="2.0"/>
<rect x="1245.70" y="59.75" width="20.95" height="29.75" fill="#EEB422" stroke="#000" stroke-width="1.85"/>
<line x1="1245.70" y1="77.50" x2="1266.65" y2="77.50" stroke="#000" stroke-width="2.1"/>
<circle cx="1256.17" cy="33.50" r="2.95" fill="#EEB422" stroke="#000" stroke-width="1.45"/>
<circle cx="1256.17" cy="101.75" r="2.95" fill="#EEB422" stroke="#000" stroke-width="1.45"/>
<circle cx="1256.17" cy="73.00" r="3.95" fill="#000"/>
<line x1="1281.42" y1="69.40" x2="1281.42" y2="125.25" stroke="#000" stroke-width="2.0"/>
<rect x="1270.95" y="90.75" width="20.95" height="22.00" fill="#008000" stroke="#000" stroke-width="1.85"/>
<line x1="1270.95" y1="99.50" x2="1291.90" y2="99.50" stroke="#000" stroke-width="2.1"/>
<circle cx="1281.42" cy="69.40" r="2.95" fill="#008000" stroke="#000" stroke-width="1.45"/>
<circle cx="1281.42" cy="125.25" r="2.95" fill="#008000" stroke="#000" stroke-width="1.45"/>
<circle cx="1281.42" cy="100.40" r="3.95" fill="#000"/>
<line x1="1330.62" y1="25.50" x2="1330.62" y2="98.50" stroke="#000" stroke-width="2.0"/>
<rect x="1320.15" y="50.25" width="20.95" height="30.75" fill="#EEB422" stroke="#000" stroke-width="1.85"/>
<line x1="1320.15" y1="67.00" x2="1341.10" y2="67.00" stroke="#000" stroke-width="2.1"/>
<circle cx="1330.62" cy="25.50" r="2.95" fill="#EEB422" stroke="#000" stroke-width="1.45"/>
<circle cx="1330.62" cy="98.50" r="2.95" fill="#EEB422" stroke="#000" stroke-width="1.45"/>
<circle cx="1330.62" cy="64.25" r="3.95" fill="#000"/>
<line x1="1355.88" y1="64.75" x2="1355.88" y2="125.50" stroke="#000" stroke-width="2.0"/>
<rect x="1345.40" y="86.00" width="20.95" height="24.25" fill="#008000" stroke="#000" stroke-width="1.85"/>
<line x1="1345.40" y1="98.00" x2="1366.35" y2="98.00" stroke="#000" stroke-width="2.1"/>
<circle cx="1355.88" cy="64.75" r="2.95" fill="#008000" stroke="#000" stroke-width="1.45"/>
<circle cx="1355.88" cy="125.50" r="2.95" fill="#008000" stroke="#000" stroke-width="1.45"/>
<circle cx="1355.88" cy="97.50" r="3.95" fill="#000"/>
</g>
<line x1="785.0" y1="45.1" x2="1380.6" y2="45.1" stroke="#000" stroke-width="1.85" stroke-dasharray="14.15 7.79"/>
<line x1="785.0" y1="12.0" x2="792.6" y2="12.0" stroke="#000" stroke-width="2.2"/>
<line x1="1380.6" y1="12.0" x2="1373.3999999999999" y2="12.0" stroke="#000" stroke-width="2.2"/>
<text transform="translate(777.65,18.80) scale(1.065,1)" text-anchor="end" font-family="Liberation Serif, serif" font-size="20.5" stroke="#000" stroke-width="0.25">250</text>
<line x1="785.0" y1="45.1" x2="792.6" y2="45.1" stroke="#000" stroke-width="2.2"/>
<line x1="1380.6" y1="45.1" x2="1373.3999999999999" y2="45.1" stroke="#000" stroke-width="2.2"/>
<text transform="translate(777.65,51.90) scale(1.065,1)" text-anchor="end" font-family="Liberation Serif, serif" font-size="20.5" stroke="#000" stroke-width="0.25">0</text>
<line x1="785.0" y1="78.3" x2="792.6" y2="78.3" stroke="#000" stroke-width="2.2"/>
<line x1="1380.6" y1="78.3" x2="1373.3999999999999" y2="78.3" stroke="#000" stroke-width="2.2"/>
<text transform="translate(776.25,85.10) scale(1.065,1)" text-anchor="end" font-family="Liberation Serif, serif" font-size="20.5" stroke="#000" stroke-width="0.25">-250</text>
<line x1="785.0" y1="111.4" x2="792.6" y2="111.4" stroke="#000" stroke-width="2.2"/>
<line x1="1380.6" y1="111.4" x2="1373.3999999999999" y2="111.4" stroke="#000" stroke-width="2.2"/>
<text transform="translate(776.25,118.20) scale(1.065,1)" text-anchor="end" font-family="Liberation Serif, serif" font-size="20.5" stroke="#000" stroke-width="0.25">-500</text>
<line x1="785.0" y1="144.6" x2="792.6" y2="144.6" stroke="#000" stroke-width="2.2"/>
<line x1="1380.6" y1="144.6" x2="1373.3999999999999" y2="144.6" stroke="#000" stroke-width="2.2"/>
<text transform="translate(776.25,151.40) scale(1.065,1)" text-anchor="end" font-family="Liberation Serif, serif" font-size="20.5" stroke="#000" stroke-width="0.25">-750</text>
<line x1="785.0" y1="177.8" x2="792.6" y2="177.8" stroke="#000" stroke-width="2.2"/>
<line x1="1380.6" y1="177.8" x2="1373.3999999999999" y2="177.8" stroke="#000" stroke-width="2.2"/>
<text transform="translate(776.25,184.60) scale(1.065,1)" text-anchor="end" font-family="Liberation Serif, serif" font-size="20.5" stroke="#000" stroke-width="0.25">-1000</text>
<rect x="785.0" y="12.0" width="595.6" height="198.80" fill="none" stroke="#000" stroke-width="2.2"/>
<text transform="translate(821.93,237.5) scale(1.065,1)" text-anchor="middle" font-family="Liberation Serif, serif" font-size="20.5" stroke="#000" stroke-width="0.25">1</text>
<text transform="translate(896.38,237.5) scale(1.065,1)" text-anchor="middle" font-family="Liberation Serif, serif" font-size="20.5" stroke="#000" stroke-width="0.25">2</text>
<text transform="translate(970.83,237.5) scale(1.065,1)" text-anchor="middle" font-family="Liberation Serif, serif" font-size="20.5" stroke="#000" stroke-width="0.25">3</text>
<text transform="translate(1045.28,237.5) scale(1.065,1)" text-anchor="middle" font-family="Liberation Serif, serif" font-size="20.5" stroke="#000" stroke-width="0.25">4</text>
<text transform="translate(1119.73,237.5) scale(1.065,1)" text-anchor="middle" font-family="Liberation Serif, serif" font-size="20.5" stroke="#000" stroke-width="0.25">5</text>
<text transform="translate(1194.17,237.5) scale(1.065,1)" text-anchor="middle" font-family="Liberation Serif, serif" font-size="20.5" stroke="#000" stroke-width="0.25">6</text>
<text transform="translate(1268.62,237.5) scale(1.065,1)" text-anchor="middle" font-family="Liberation Serif, serif" font-size="20.5" stroke="#000" stroke-width="0.25">7</text>
<text transform="translate(1343.08,237.5) scale(1.065,1)" text-anchor="middle" font-family="Liberation Serif, serif" font-size="20.5" stroke="#000" stroke-width="0.25">8</text>
<text x="1082.1" y="264.5" text-anchor="middle" font-family="Liberation Serif, serif" font-size="21.9" textLength="91.6" lengthAdjust="spacingAndGlyphs" stroke="#000" stroke-width="0.25">Geomodel</text>
<text transform="translate(716.4,190.0) rotate(-90)" font-family="Liberation Serif, serif" font-size="20.5" textLength="55.5" lengthAdjust="spacingAndGlyphs" stroke="#000" stroke-width="0.25">Range</text>
<text transform="translate(716.4,129.75) rotate(-90)" font-family="Liberation Serif, serif" font-size="20.5" textLength="47.5" lengthAdjust="spacingAndGlyphs" stroke="#000" stroke-width="0.25">Error</text>
<text transform="translate(716.4,66.0) rotate(-90)" font-family="Liberation Serif, serif" font-size="20.5" textLength="32.8" lengthAdjust="spacingAndGlyphs" stroke="#000" stroke-width="0.25">[m]</text>
</g>
<g id="BR">
<clipPath id="cBR"><rect x="786.1" y="295.5" width="595.6" height="199.10"/></clipPath>
<line x1="860.55" y1="295.5" x2="860.55" y2="494.0" stroke="#000" stroke-width="2.2"/>
<line x1="935.00" y1="295.5" x2="935.00" y2="494.0" stroke="#000" stroke-width="2.2"/>
<line x1="1009.45" y1="295.5" x2="1009.45" y2="494.0" stroke="#000" stroke-width="2.2"/>
<line x1="1083.90" y1="295.5" x2="1083.90" y2="494.0" stroke="#000" stroke-width="2.2"/>
<line x1="1158.35" y1="295.5" x2="1158.35" y2="494.0" stroke="#000" stroke-width="2.2"/>
<line x1="1232.80" y1="295.5" x2="1232.80" y2="494.0" stroke="#000" stroke-width="2.2"/>
<line x1="1307.25" y1="295.5" x2="1307.25" y2="494.0" stroke="#000" stroke-width="2.2"/>
<g clip-path="url(#cBR)">
<line x1="810.58" y1="383.90" x2="810.58" y2="452.00" stroke="#000" stroke-width="2.0"/>
<rect x="800.10" y="402.75" width="20.95" height="28.75" fill="#EEB422" stroke="#000" stroke-width="1.85"/>
<line x1="800.10" y1="418.00" x2="821.05" y2="418.00" stroke="#000" stroke-width="2.1"/>
<circle cx="810.58" cy="383.90" r="2.95" fill="#EEB422" stroke="#000" stroke-width="1.45"/>
<circle cx="810.58" cy="452.00" r="2.95" fill="#EEB422" stroke="#000" stroke-width="1.45"/>
<circle cx="810.58" cy="417.75" r="3.95" fill="#000"/>
<line x1="835.83" y1="349.00" x2="835.83" y2="472.00" stroke="#000" stroke-width="2.0"/>
<rect x="825.35" y="458.75" width="20.95" height="9.25" fill="#008000" stroke="#000" stroke-width="1.85"/>
<line x1="825.35" y1="464.25" x2="846.30" y2="464.25" stroke="#000" stroke-width="2.1"/>
<circle cx="835.83" cy="349.00" r="2.95" fill="#008000" stroke="#000" stroke-width="1.45"/>
<circle cx="835.83" cy="472.00" r="2.95" fill="#008000" stroke="#000" stroke-width="1.45"/>
<circle cx="835.83" cy="451.75" r="3.95" fill="#000"/>
<line x1="885.03" y1="388.75" x2="885.03" y2="453.75" stroke="#000" stroke-width="2.0"/>
<rect x="874.55" y="407.25" width="20.95" height="27.50" fill="#EEB422" stroke="#000" stroke-width="1.85"/>
<line x1="874.55" y1="420.50" x2="895.50" y2="420.50" stroke="#000" stroke-width="2.1"/>
<circle cx="885.03" cy="388.75" r="2.95" fill="#EEB422" stroke="#000" stroke-width="1.45"/>
<circle cx="885.03" cy="453.75" r="2.95" fill="#EEB422" stroke="#000" stroke-width="1.45"/>
<circle cx="885.03" cy="420.75" r="3.95" fill="#000"/>
<line x1="910.28" y1="337.25" x2="910.28" y2="467.75" stroke="#000" stroke-width="2.0"/>
<rect x="899.80" y="446.25" width="20.95" height="12.00" fill="#008000" stroke="#000" stroke-width="1.85"/>
<line x1="899.80" y1="453.50" x2="920.75" y2="453.50" stroke="#000" stroke-width="2.1"/>
<circle cx="910.28" cy="337.25" r="2.95" fill="#008000" stroke="#000" stroke-width="1.45"/>
<circle cx="910.28" cy="467.75" r="2.95" fill="#008000" stroke="#000" stroke-width="1.45"/>
<circle cx="910.28" cy="442.50" r="3.95" fill="#000"/>
<line x1="959.48" y1="394.50" x2="959.48" y2="452.75" stroke="#000" stroke-width="2.0"/>
<rect x="949.00" y="414.50" width="20.95" height="25.00" fill="#EEB422" stroke="#000" stroke-width="1.85"/>
<line x1="949.00" y1="428.00" x2="969.95" y2="428.00" stroke="#000" stroke-width="2.1"/>
<circle cx="959.48" cy="394.50" r="2.95" fill="#EEB422" stroke="#000" stroke-width="1.45"/>
<circle cx="959.48" cy="452.75" r="2.95" fill="#EEB422" stroke="#000" stroke-width="1.45"/>
<circle cx="959.48" cy="426.25" r="3.95" fill="#000"/>
<line x1="984.73" y1="290.50" x2="984.73" y2="469.25" stroke="#000" stroke-width="2.0"/>
<rect x="974.25" y="402.75" width="20.95" height="23.75" fill="#008000" stroke="#000" stroke-width="1.85"/>
<line x1="974.25" y1="416.75" x2="995.20" y2="416.75" stroke="#000" stroke-width="2.1"/>
<circle cx="984.73" cy="469.25" r="2.95" fill="#008000" stroke="#000" stroke-width="1.45"/>
<circle cx="984.73" cy="403.50" r="3.95" fill="#000"/>
<line x1="1033.92" y1="385.90" x2="1033.92" y2="455.50" stroke="#000" stroke-width="2.0"/>
<rect x="1023.45" y="410.85" width="20.95" height="25.90" fill="#EEB422" stroke="#000" stroke-width="1.85"/>
<line x1="1023.45" y1="422.75" x2="1044.40" y2="422.75" stroke="#000" stroke-width="2.1"/>
<circle cx="1033.92" cy="385.90" r="2.95" fill="#EEB422" stroke="#000" stroke-width="1.45"/>
<circle cx="1033.92" cy="455.50" r="2.95" fill="#EEB422" stroke="#000" stroke-width="1.45"/>
<circle cx="1033.92" cy="422.25" r="3.95" fill="#000"/>
<line x1="1059.17" y1="356.00" x2="1059.17" y2="471.50" stroke="#000" stroke-width="2.0"/>
<rect x="1048.70" y="459.50" width="20.95" height="8.00" fill="#008000" stroke="#000" stroke-width="1.85"/>
<line x1="1048.70" y1="464.25" x2="1069.65" y2="464.25" stroke="#000" stroke-width="2.1"/>
<circle cx="1059.17" cy="356.00" r="2.95" fill="#008000" stroke="#000" stroke-width="1.45"/>
<circle cx="1059.17" cy="471.50" r="2.95" fill="#008000" stroke="#000" stroke-width="1.45"/>
<circle cx="1059.17" cy="450.50" r="3.95" fill="#000"/>
<line x1="1108.38" y1="381.40" x2="1108.38" y2="455.00" stroke="#000" stroke-width="2.0"/>
<rect x="1097.90" y="405.15" width="20.95" height="27.60" fill="#EEB422" stroke="#000" stroke-width="1.85"/>
<line x1="1097.90" y1="419.50" x2="1118.85" y2="419.50" stroke="#000" stroke-width="2.1"/>
<circle cx="1108.38" cy="381.40" r="2.95" fill="#EEB422" stroke="#000" stroke-width="1.45"/>
<circle cx="1108.38" cy="455.00" r="2.95" fill="#EEB422" stroke="#000" stroke-width="1.45"/>
<circle cx="1108.38" cy="418.75" r="3.95" fill="#000"/>
<line x1="1133.62" y1="375.50" x2="1133.62" y2="471.00" stroke="#000" stroke-width="2.0"/>
<rect x="1123.15" y="458.25" width="20.95" height="8.25" fill="#008000" stroke="#000" stroke-width="1.85"/>
<line x1="1123.15" y1="463.25" x2="1144.10" y2="463.25" stroke="#000" stroke-width="2.1"/>
<circle cx="1133.62" cy="375.50" r="2.95" fill="#008000" stroke="#000" stroke-width="1.45"/>
<circle cx="1133.62" cy="471.00" r="2.95" fill="#008000" stroke="#000" stroke-width="1.45"/>
<circle cx="1133.62" cy="453.75" r="3.95" fill="#000"/>
<line x1="1182.83" y1="387.10" x2="1182.83" y2="455.00" stroke="#000" stroke-width="2.0"/>
<rect x="1172.35" y="407.35" width="20.95" height="26.65" fill="#EEB422" stroke="#000" stroke-width="1.85"/>
<line x1="1172.35" y1="422.50" x2="1193.30" y2="422.50" stroke="#000" stroke-width="2.1"/>
<circle cx="1182.83" cy="387.10" r="2.95" fill="#EEB422" stroke="#000" stroke-width="1.45"/>
<circle cx="1182.83" cy="455.00" r="2.95" fill="#EEB422" stroke="#000" stroke-width="1.45"/>
<circle cx="1182.83" cy="421.25" r="3.95" fill="#000"/>
<line x1="1208.08" y1="424.50" x2="1208.08" y2="472.00" stroke="#000" stroke-width="2.0"/>
<rect x="1197.60" y="463.25" width="20.95" height="6.00" fill="#008000" stroke="#000" stroke-width="1.85"/>
<line x1="1197.60" y1="466.75" x2="1218.55" y2="466.75" stroke="#000" stroke-width="2.1"/>
<circle cx="1208.08" cy="424.50" r="2.95" fill="#008000" stroke="#000" stroke-width="1.45"/>
<circle cx="1208.08" cy="472.00" r="2.95" fill="#008000" stroke="#000" stroke-width="1.45"/>
<circle cx="1208.08" cy="461.50" r="3.95" fill="#000"/>
<line x1="1257.28" y1="371.75" x2="1257.28" y2="452.75" stroke="#000" stroke-width="2.0"/>
<rect x="1246.80" y="402.00" width="20.95" height="31.75" fill="#EEB422" stroke="#000" stroke-width="1.85"/>
<line x1="1246.80" y1="418.25" x2="1267.75" y2="418.25" stroke="#000" stroke-width="2.1"/>
<circle cx="1257.28" cy="371.75" r="2.95" fill="#EEB422" stroke="#000" stroke-width="1.45"/>
<circle cx="1257.28" cy="452.75" r="2.95" fill="#EEB422" stroke="#000" stroke-width="1.45"/>
<circle cx="1257.28" cy="416.50" r="3.95" fill="#000"/>
<line x1="1282.53" y1="411.60" x2="1282.53" y2="473.00" stroke="#000" stroke-width="2.0"/>
<rect x="1272.05" y="458.75" width="20.95" height="8.75" fill="#008000" stroke="#000" stroke-width="1.85"/>
<line x1="1272.05" y1="464.00" x2="1293.00" y2="464.00" stroke="#000" stroke-width="2.1"/>
<circle cx="1282.53" cy="411.60" r="2.95" fill="#008000" stroke="#000" stroke-width="1.45"/>
<circle cx="1282.53" cy="473.00" r="2.95" fill="#008000" stroke="#000" stroke-width="1.45"/>
<circle cx="1282.53" cy="456.00" r="3.95" fill="#000"/>
<line x1="1331.72" y1="387.00" x2="1331.72" y2="458.25" stroke="#000" stroke-width="2.0"/>
<rect x="1321.25" y="407.00" width="20.95" height="30.75" fill="#EEB422" stroke="#000" stroke-width="1.85"/>
<line x1="1321.25" y1="420.50" x2="1342.20" y2="420.50" stroke="#000" stroke-width="2.1"/>
<circle cx="1331.72" cy="387.00" r="2.95" fill="#EEB422" stroke="#000" stroke-width="1.45"/>
<circle cx="1331.72" cy="458.25" r="2.95" fill="#EEB422" stroke="#000" stroke-width="1.45"/>
<circle cx="1331.72" cy="422.00" r="3.95" fill="#000"/>
<line x1="1356.97" y1="403.00" x2="1356.97" y2="477.25" stroke="#000" stroke-width="2.0"/>
<rect x="1346.50" y="460.50" width="20.95" height="13.25" fill="#008000" stroke="#000" stroke-width="1.85"/>
<line x1="1346.50" y1="471.00" x2="1367.45" y2="471.00" stroke="#000" stroke-width="2.1"/>
<circle cx="1356.97" cy="403.00" r="2.95" fill="#008000" stroke="#000" stroke-width="1.45"/>
<circle cx="1356.97" cy="477.25" r="2.95" fill="#008000" stroke="#000" stroke-width="1.45"/>
<circle cx="1356.97" cy="461.50" r="3.95" fill="#000"/>
</g>
<line x1="786.1" y1="444.5" x2="1381.7" y2="444.5" stroke="#000" stroke-width="1.85" stroke-dasharray="14.15 7.79"/>
<line x1="786.1" y1="295.5" x2="793.7" y2="295.5" stroke="#000" stroke-width="2.2"/>
<line x1="1381.7" y1="295.5" x2="1374.5" y2="295.5" stroke="#000" stroke-width="2.2"/>
<text transform="translate(778.45,302.30) scale(1.065,1)" text-anchor="end" font-family="Liberation Serif, serif" font-size="20.5" stroke="#000" stroke-width="0.25">0.15</text>
<line x1="786.1" y1="345.1" x2="793.7" y2="345.1" stroke="#000" stroke-width="2.2"/>
<line x1="1381.7" y1="345.1" x2="1374.5" y2="345.1" stroke="#000" stroke-width="2.2"/>
<text transform="translate(778.45,351.90) scale(1.065,1)" text-anchor="end" font-family="Liberation Serif, serif" font-size="20.5" stroke="#000" stroke-width="0.25">0.1</text>
<line x1="786.1" y1="394.8" x2="793.7" y2="394.8" stroke="#000" stroke-width="2.2"/>
<line x1="1381.7" y1="394.8" x2="1374.5" y2="394.8" stroke="#000" stroke-width="2.2"/>
<text transform="translate(778.45,401.60) scale(1.065,1)" text-anchor="end" font-family="Liberation Serif, serif" font-size="20.5" stroke="#000" stroke-width="0.25">0.05</text>
<line x1="786.1" y1="444.5" x2="793.7" y2="444.5" stroke="#000" stroke-width="2.2"/>
<line x1="1381.7" y1="444.5" x2="1374.5" y2="444.5" stroke="#000" stroke-width="2.2"/>
<text transform="translate(778.45,451.30) scale(1.065,1)" text-anchor="end" font-family="Liberation Serif, serif" font-size="20.5" stroke="#000" stroke-width="0.25">0</text>
<line x1="786.1" y1="494.0" x2="793.7" y2="494.0" stroke="#000" stroke-width="2.2"/>
<line x1="1381.7" y1="494.0" x2="1374.5" y2="494.0" stroke="#000" stroke-width="2.2"/>
<text transform="translate(777.05,500.80) scale(1.065,1)" text-anchor="end" font-family="Liberation Serif, serif" font-size="20.5" stroke="#000" stroke-width="0.25">-0.05</text>
<rect x="786.1" y="295.5" width="595.6" height="198.50" fill="none" stroke="#000" stroke-width="2.2"/>
<text transform="translate(823.03,521.4) scale(1.065,1)" text-anchor="middle" font-family="Liberation Serif, serif" font-size="20.5" stroke="#000" stroke-width="0.25">1</text>
<text transform="translate(897.48,521.4) scale(1.065,1)" text-anchor="middle" font-family="Liberation Serif, serif" font-size="20.5" stroke="#000" stroke-width="0.25">2</text>
<text transform="translate(971.93,521.4) scale(1.065,1)" text-anchor="middle" font-family="Liberation Serif, serif" font-size="20.5" stroke="#000" stroke-width="0.25">3</text>
<text transform="translate(1046.38,521.4) scale(1.065,1)" text-anchor="middle" font-family="Liberation Serif, serif" font-size="20.5" stroke="#000" stroke-width="0.25">4</text>
<text transform="translate(1120.83,521.4) scale(1.065,1)" text-anchor="middle" font-family="Liberation Serif, serif" font-size="20.5" stroke="#000" stroke-width="0.25">5</text>
<text transform="translate(1195.28,521.4) scale(1.065,1)" text-anchor="middle" font-family="Liberation Serif, serif" font-size="20.5" stroke="#000" stroke-width="0.25">6</text>
<text transform="translate(1269.73,521.4) scale(1.065,1)" text-anchor="middle" font-family="Liberation Serif, serif" font-size="20.5" stroke="#000" stroke-width="0.25">7</text>
<text transform="translate(1344.17,521.4) scale(1.065,1)" text-anchor="middle" font-family="Liberation Serif, serif" font-size="20.5" stroke="#000" stroke-width="0.25">8</text>
<text x="1083.3" y="547.8000000000001" text-anchor="middle" font-family="Liberation Serif, serif" font-size="21.9" textLength="91.6" lengthAdjust="spacingAndGlyphs" stroke="#000" stroke-width="0.25">Geomodel</text>
<text transform="translate(723.0,452.6) rotate(-90)" font-family="Liberation Serif, serif" font-size="20.5" textLength="62.6" lengthAdjust="spacingAndGlyphs" stroke="#000" stroke-width="0.25">Nugget</text>
<text transform="translate(723.0,384.45) rotate(-90)" font-family="Liberation Serif, serif" font-size="20.5" textLength="47.5" lengthAdjust="spacingAndGlyphs" stroke="#000" stroke-width="0.25">Error</text>
</g>
<g id="legend">
<rect x="796.1" y="148.4" width="108.9" height="50.8" fill="#fff" stroke="#000" stroke-width="2.2"/>
<rect x="816.6" y="156.7" width="10.9" height="10.9" fill="#008000" stroke="#000" stroke-width="1.3"/>
<rect x="816.6" y="180.0" width="10.9" height="10.9" fill="#EEB422" stroke="#000" stroke-width="1.3"/>
<text x="846.8" y="167.7" font-family="Liberation Serif, serif" font-size="19.2" textLength="52.2" lengthAdjust="spacingAndGlyphs" stroke="#000" stroke-width="0.25">p-field</text>
<text x="847.3" y="191.6" font-family="Liberation Serif, serif" font-size="19.2" textLength="28.4" lengthAdjust="spacingAndGlyphs" stroke="#000" stroke-width="0.25">sGs</text>
</g>
</svg>
</body></html>
